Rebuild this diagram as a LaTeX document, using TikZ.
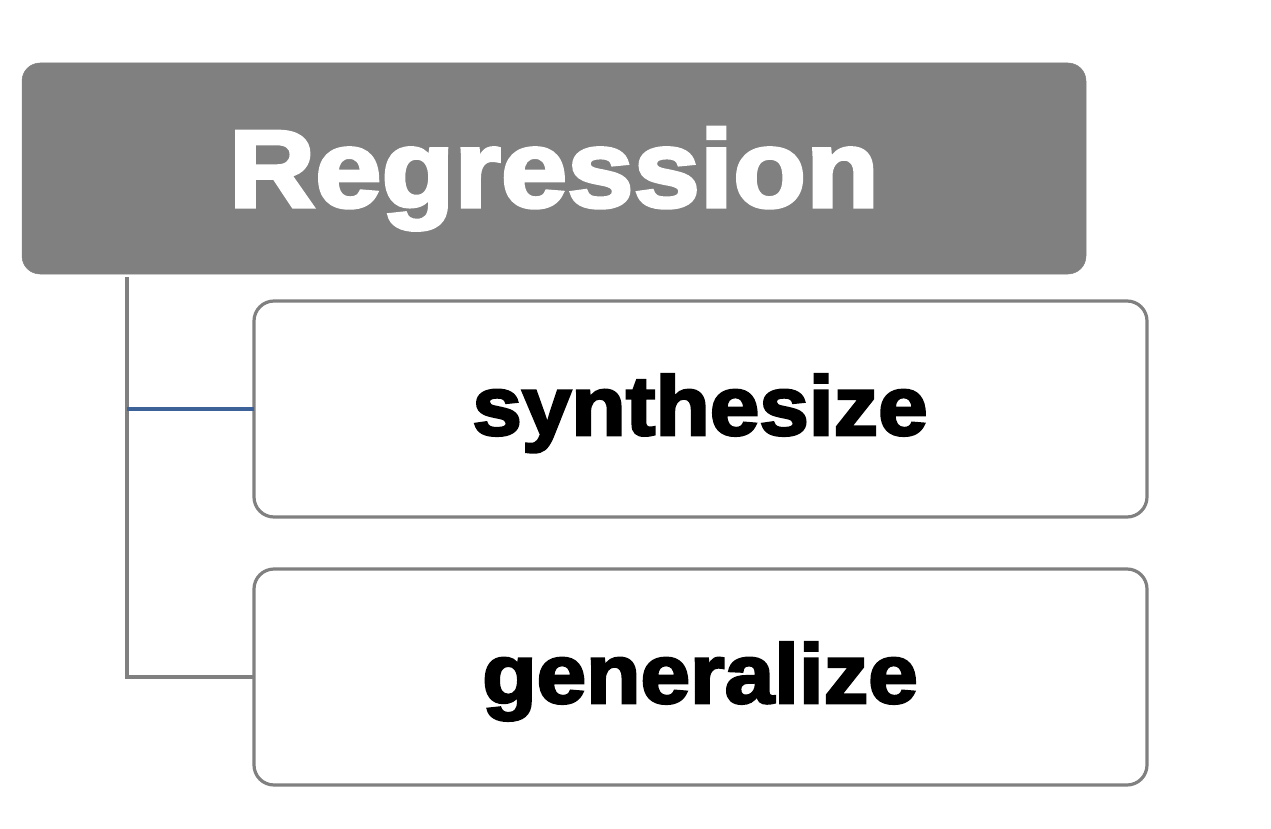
\documentclass[tikz,border=0pt]{standalone}
\usepackage{fontspec}
\setmainfont{Liberation Sans}[BoldFeatures={FakeBold=3}]
\definecolor{headgray}{HTML}{808080}
\definecolor{linegray}{HTML}{808080}
\definecolor{linkblue}{HTML}{3D6199}
\begin{document}
\begin{tikzpicture}[x=1pt,y=-1pt,
  headbox/.style={fill=headgray,draw=headgray,line width=0.5pt,rounded corners=18pt},
  childbox/.style={draw=linegray,line width=3.2pt,fill=white,rounded corners=20pt},
  conn/.style={draw=linegray,line width=3.2pt},
  bluelink/.style={draw=linkblue,line width=3.2pt},
  headtext/.style={text=white,font=\fontsize{110}{110}\selectfont\bfseries,anchor=base,inner sep=0pt,xscale=1.085},
  childtext/.style={text=black,font=\fontsize{84}{84}\selectfont\bfseries,anchor=base,inner sep=0pt,xscale=1.06}]
\useasboundingbox (0,0) rectangle (1271,829);
\draw[headbox] (22,63) rectangle (1086,274);
\node[headtext] (head) at (554,207) {Regression};
\draw[childbox] (254,301) rectangle (1147,517);
\draw[childbox] (254,569) rectangle (1147,785);
\node[childtext] (c1) at (700,435) {synthesize};
\node[childtext] (c2) at (700,703) {generalize};
\coordinate (top) at (127,277);
\coordinate (j1) at (127,409);
\coordinate (j2) at (127,677);
\coordinate (e1) at (254,409);
\coordinate (e2) at (254,677);
\draw[conn,line join=miter] (top) -- (j2) -- (e2);
\draw[bluelink] (j1) -- (e1);
\end{tikzpicture}
\end{document}
